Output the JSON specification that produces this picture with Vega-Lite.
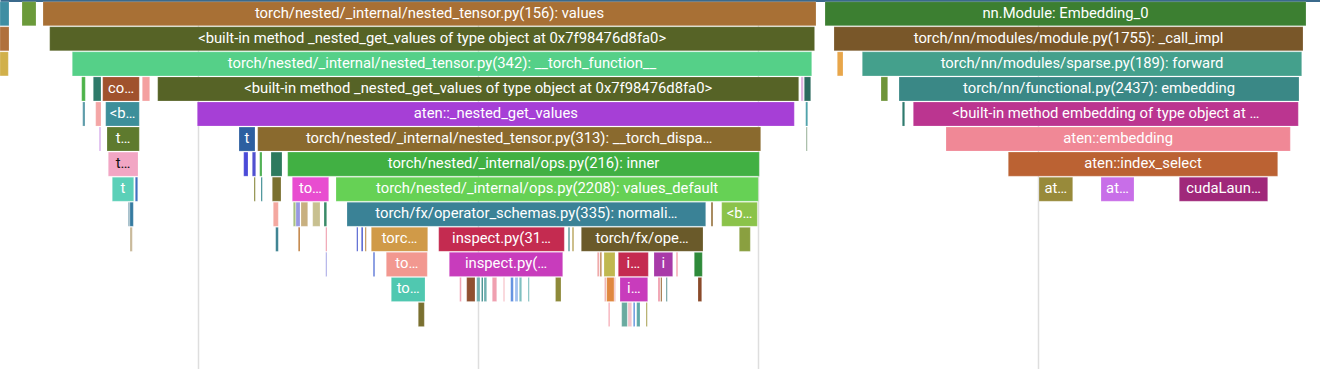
{
  "$schema": "https://vega.github.io/schema/vega-lite/v6.json",
  "width": 1320,
  "height": 369,
  "autosize": {"type": "none"},
  "padding": 0,
  "background": "#ffffff",
  "view": {"stroke": null},
  "config": {"font": "Roboto"},
  "data": {"values": [
    {"id":"b0","d":0,"s":0,"e":9,"t":""},
    {"id":"b1","d":0,"s":22,"e":36,"t":""},
    {"id":"b2","d":0,"s":43,"e":816,"t":"torch/nested/_internal/nested_tensor.py(156): values"},
    {"id":"b3","d":0,"s":825,"e":1306,"t":"nn.Module: Embedding_0"},
    {"id":"b4","d":1,"s":0,"e":9,"t":""},
    {"id":"b5","d":1,"s":49.7,"e":814.6,"t":"<built-in method _nested_get_values of type object at 0x7f98476d8fa0>"},
    {"id":"b6","d":1,"s":834,"e":1303,"t":"torch/nn/modules/module.py(1755): _call_impl"},
    {"id":"b7","d":2,"s":0,"e":8.3,"t":""},
    {"id":"b8","d":2,"s":72.3,"e":811.7,"t":"torch/nested/_internal/nested_tensor.py(342): __torch_function__"},
    {"id":"b9","d":2,"s":837.3,"e":843,"t":""},
    {"id":"b10","d":2,"s":862.3,"e":1301.7,"t":"torch/nn/modules/sparse.py(189): forward"},
    {"id":"b11","d":3,"s":81.7,"e":85.3,"t":""},
    {"id":"b12","d":3,"s":93.3,"e":101,"t":""},
    {"id":"b13","d":3,"s":102.7,"e":139.3,"t":"co…"},
    {"id":"b14","d":3,"s":142.3,"e":149.7,"t":""},
    {"id":"b15","d":3,"s":157.7,"e":798.7,"t":"<built-in method _nested_get_values of type object at 0x7f98476d8fa0>"},
    {"id":"b16","d":3,"s":801,"e":803.3,"t":""},
    {"id":"b17","d":3,"s":804.3,"e":810.7,"t":""},
    {"id":"b18","d":3,"s":881,"e":887.7,"t":""},
    {"id":"b19","d":3,"s":899,"e":1299,"t":"torch/nn/functional.py(2437): embedding"},
    {"id":"b20","d":4,"s":82.7,"e":85,"t":""},
    {"id":"b21","d":4,"s":95.7,"e":101,"t":""},
    {"id":"b22","d":4,"s":105.7,"e":139.3,"t":"<b…"},
    {"id":"b23","d":4,"s":197.3,"e":794.3,"t":"aten::_nested_get_values"},
    {"id":"b24","d":4,"s":805.7,"e":807.7,"t":""},
    {"id":"b25","d":4,"s":902.3,"e":904.7,"t":""},
    {"id":"b26","d":4,"s":913.3,"e":1298.3,"t":"<built-in method embedding of type object at …"},
    {"id":"b27","d":5,"s":99,"e":101,"t":""},
    {"id":"b28","d":5,"s":107,"e":139.3,"t":"t…"},
    {"id":"b29","d":5,"s":239,"e":255,"t":"t"},
    {"id":"b30","d":5,"s":257.7,"e":760.7,"t":"torch/nested/_internal/nested_tensor.py(313): __torch_dispa…"},
    {"id":"b31","d":5,"s":806,"e":807.3,"t":""},
    {"id":"b32","d":5,"s":946,"e":1290.3,"t":"aten::embedding"},
    {"id":"b33","d":6,"s":108.3,"e":138,"t":"t…"},
    {"id":"b34","d":6,"s":243.7,"e":248,"t":""},
    {"id":"b35","d":6,"s":252.3,"e":255.7,"t":""},
    {"id":"b36","d":6,"s":259.7,"e":262,"t":""},
    {"id":"b37","d":6,"s":271,"e":282,"t":""},
    {"id":"b38","d":6,"s":287.7,"e":759.3,"t":"torch/nested/_internal/ops.py(216): inner"},
    {"id":"b39","d":6,"s":1008.3,"e":1277.7,"t":"aten::index_select"},
    {"id":"b40","d":7,"s":112.3,"e":133.7,"t":"t"},
    {"id":"b41","d":7,"s":135.3,"e":137.7,"t":""},
    {"id":"b42","d":7,"s":254,"e":255.3,"t":""},
    {"id":"b43","d":7,"s":261,"e":262.3,"t":""},
    {"id":"b44","d":7,"s":272.3,"e":281,"t":""},
    {"id":"b45","d":7,"s":292.3,"e":328.7,"t":"to…"},
    {"id":"b46","d":7,"s":336,"e":758.3,"t":"torch/nested/_internal/ops.py(2208): values_default"},
    {"id":"b47","d":7,"s":1039,"e":1072.7,"t":"at…"},
    {"id":"b48","d":7,"s":1101,"e":1134,"t":"at…"},
    {"id":"b49","d":7,"s":1179.3,"e":1267.7,"t":"cudaLaun…"},
    {"id":"b50","d":8,"s":128,"e":130,"t":""},
    {"id":"b51","d":8,"s":130,"e":133.3,"t":""},
    {"id":"b52","d":8,"s":273.3,"e":278.3,"t":""},
    {"id":"b53","d":8,"s":293.3,"e":295.7,"t":""},
    {"id":"b54","d":8,"s":296,"e":300,"t":""},
    {"id":"b55","d":8,"s":301,"e":307.7,"t":""},
    {"id":"b56","d":8,"s":312.7,"e":320,"t":""},
    {"id":"b57","d":8,"s":324,"e":326.7,"t":""},
    {"id":"b58","d":8,"s":347,"e":705.7,"t":"torch/fx/operator_schemas.py(335): normali…"},
    {"id":"b59","d":8,"s":711,"e":713,"t":""},
    {"id":"b60","d":8,"s":721.7,"e":757.3,"t":"<b…"},
    {"id":"b61","d":9,"s":130,"e":132.3,"t":""},
    {"id":"b62","d":9,"s":275.7,"e":278.3,"t":""},
    {"id":"b63","d":9,"s":298.3,"e":300,"t":""},
    {"id":"b64","d":9,"s":325.7,"e":327,"t":""},
    {"id":"b65","d":9,"s":356.7,"e":358,"t":""},
    {"id":"b66","d":9,"s":361.3,"e":363,"t":""},
    {"id":"b67","d":9,"s":365,"e":366.3,"t":""},
    {"id":"b68","d":9,"s":371.3,"e":427.7,"t":"torc…"},
    {"id":"b69","d":9,"s":438.7,"e":564.3,"t":"inspect.py(31…"},
    {"id":"b70","d":9,"s":568,"e":570,"t":""},
    {"id":"b71","d":9,"s":572,"e":574,"t":""},
    {"id":"b72","d":9,"s":581.3,"e":703,"t":"torch/fx/ope…"},
    {"id":"b73","d":9,"s":739.3,"e":750.3,"t":""},
    {"id":"b74","d":10,"s":325.7,"e":327,"t":""},
    {"id":"b75","d":10,"s":373.3,"e":374.7,"t":""},
    {"id":"b76","d":10,"s":386.3,"e":427.3,"t":"to…"},
    {"id":"b77","d":10,"s":449.3,"e":562.7,"t":"inspect.py(…"},
    {"id":"b78","d":10,"s":597.3,"e":599.3,"t":""},
    {"id":"b79","d":10,"s":600,"e":601.7,"t":""},
    {"id":"b80","d":10,"s":604,"e":615,"t":""},
    {"id":"b81","d":10,"s":618.3,"e":648.3,"t":"i…"},
    {"id":"b82","d":10,"s":654,"e":672.7,"t":"i"},
    {"id":"b83","d":10,"s":676,"e":678,"t":""},
    {"id":"b84","d":10,"s":694.3,"e":702.3,"t":""},
    {"id":"b85","d":11,"s":391.3,"e":425,"t":"to…"},
    {"id":"b86","d":11,"s":459.7,"e":461.3,"t":""},
    {"id":"b87","d":11,"s":466.7,"e":475,"t":""},
    {"id":"b88","d":11,"s":476.7,"e":480,"t":""},
    {"id":"b89","d":11,"s":481.5,"e":483,"t":""},
    {"id":"b90","d":11,"s":484,"e":486.7,"t":""},
    {"id":"b91","d":11,"s":492.3,"e":496.7,"t":""},
    {"id":"b92","d":11,"s":503.3,"e":504.7,"t":""},
    {"id":"b93","d":11,"s":510.7,"e":513.3,"t":""},
    {"id":"b94","d":11,"s":515,"e":518,"t":""},
    {"id":"b95","d":11,"s":519.3,"e":521.7,"t":""},
    {"id":"b96","d":11,"s":528,"e":529.3,"t":""},
    {"id":"b97","d":11,"s":555.5,"e":561,"t":""},
    {"id":"b98","d":11,"s":604.5,"e":606,"t":""},
    {"id":"b99","d":11,"s":606.7,"e":614,"t":""},
    {"id":"b100","d":11,"s":614.3,"e":615.5,"t":""},
    {"id":"b101","d":11,"s":620,"e":647.7,"t":"i…"},
    {"id":"b102","d":11,"s":658,"e":660,"t":""},
    {"id":"b103","d":11,"s":660.7,"e":662,"t":""},
    {"id":"b104","d":11,"s":666,"e":667.3,"t":""},
    {"id":"b105","d":11,"s":698,"e":701.7,"t":""},
    {"id":"b106","d":12,"s":418.3,"e":424.3,"t":""},
    {"id":"b107","d":12,"s":608.3,"e":610,"t":""},
    {"id":"b108","d":12,"s":621.7,"e":627.3,"t":""},
    {"id":"b109","d":12,"s":628,"e":631.7,"t":""},
    {"id":"b110","d":12,"s":633.3,"e":635,"t":""},
    {"id":"b111","d":12,"s":636.7,"e":640,"t":""},
    {"id":"b112","d":12,"s":646,"e":647.3,"t":""}
  ]},
  "layer": [
    {
      "mark": {"type": "bar", "stroke": "#ffffff", "strokeWidth": 0.5, "strokeOpacity": 0.4},
      "encoding": {
        "x": {"field": "s", "type": "quantitative",
          "scale": {"domain": [0, 1320], "nice": false, "zero": false},
          "axis": {"orient": "top", "values": [198, 478, 758, 1038], "labels": false, "ticks": false, "title": null,
            "grid": true, "gridColor": "#dedede", "gridWidth": 1.5,
            "domain": true, "domainColor": "#3b6a8c", "domainWidth": 3}},
        "x2": {"field": "e"},
        "y": {"field": "d", "type": "ordinal", "axis": null,
          "scale": {"domain": [0,1,2,3,4,5,6,7,8,9,10,11,12,13,14], "range": [1.7, 376.7], "paddingInner": 0.04, "paddingOuter": 0}},
        "color": {"field": "id", "type": "nominal", "legend": null,
          "scale": {
            "domain": ["b0","b1","b2","b3","b4","b5","b6","b7","b8","b9","b10","b11","b12","b13","b14","b15","b16","b17","b18","b19","b20","b21","b22","b23","b24","b25","b26","b27","b28","b29","b30","b31","b32","b33","b34","b35","b36","b37","b38","b39","b40","b41","b42","b43","b44","b45","b46","b47","b48","b49","b50","b51","b52","b53","b54","b55","b56","b57","b58","b59","b60","b61","b62","b63","b64","b65","b66","b67","b68","b69","b70","b71","b72","b73","b74","b75","b76","b77","b78","b79","b80","b81","b82","b83","b84","b85","b86","b87","b88","b89","b90","b91","b92","b93","b94","b95","b96","b97","b98","b99","b100","b101","b102","b103","b104","b105","b106","b107","b108","b109","b110","b111","b112"],
            "range": ["#3f8ea3","#6b9a3a","#a87035","#3c7f31","#b0703c","#566326","#795729","#d1b04a","#55d088","#e8a64a","#44a08c","#4db34a","#2f7a6a","#a0522d","#f4a0a0","#566326","#e0b0e0","#2c6a5e","#6e9438","#3a8886","#5a9aa8","#f4a6a6","#3d8f9a","#a63fd6","#4aa0a8","#2e7a6e","#bb3590","#e0c0f0","#5e7a2e","#2d5fa0","#8a6a2e","#a0b8a0","#f08896","#f2a6c4","#4a4ad8","#5050d0","#4caf50","#2e7a5e","#41b043","#bb6233","#5bd0b8","#4070c0","#8a8a40","#3a8a90","#7a7030","#e84dd0","#66d155","#988a3a","#c86ee8","#a0287a","#a0bcc8","#357aa0","#f4a8a0","#a8c080","#9898e0","#c8b080","#c8c090","#3a8a68","#3a8296","#a08050","#8bc34a","#c8b898","#3a8090","#c08040","#f0a0b0","#5060d0","#5060d0","#c09050","#d09a48","#c42b50","#80b0b0","#c8b880","#6a5a2a","#8aa040","#b0b0e8","#4060d0","#f29890","#c83cbc","#f0a8a8","#c09060","#c0b850","#c42b50","#a83aa8","#f8b8c0","#2e8a3a","#50c8b0","#f0a0b0","#905030","#70b0b0","#3a8a8a","#70b0b0","#f0a0b0","#f8c0c8","#6090e0","#a0c0f0","#80c0c0","#80c0c0","#8e8a3a","#f0b0b0","#e08840","#f0b0b0","#c83cbc","#f0a0b0","#a07040","#70a0a0","#8a4a2a","#7a7030","#f8b8c0","#6aaaa0","#f4c4cc","#6a9ae0","#60a8a8","#b0a860"]
          }}
      }
    },
    {
      "transform": [
        {"filter": "datum.t !== ''"},
        {"fold": ["s", "e"], "as": ["k", "v"]},
        {"aggregate": [{"op": "mean", "field": "v", "as": "m"}], "groupby": ["id", "d", "t"]}
      ],
      "mark": {"type": "text", "font": "Roboto", "fontSize": 14.8, "align": "center", "baseline": "middle"},
      "encoding": {
        "x": {"field": "m", "type": "quantitative"},
        "y": {"field": "d", "type": "ordinal"},
        "text": {"field": "t"},
        "color": {"condition": {"test": "datum.id === 'b33'", "value": "#111111"}, "value": "#ffffff"}
      }
    }
  ]
}
